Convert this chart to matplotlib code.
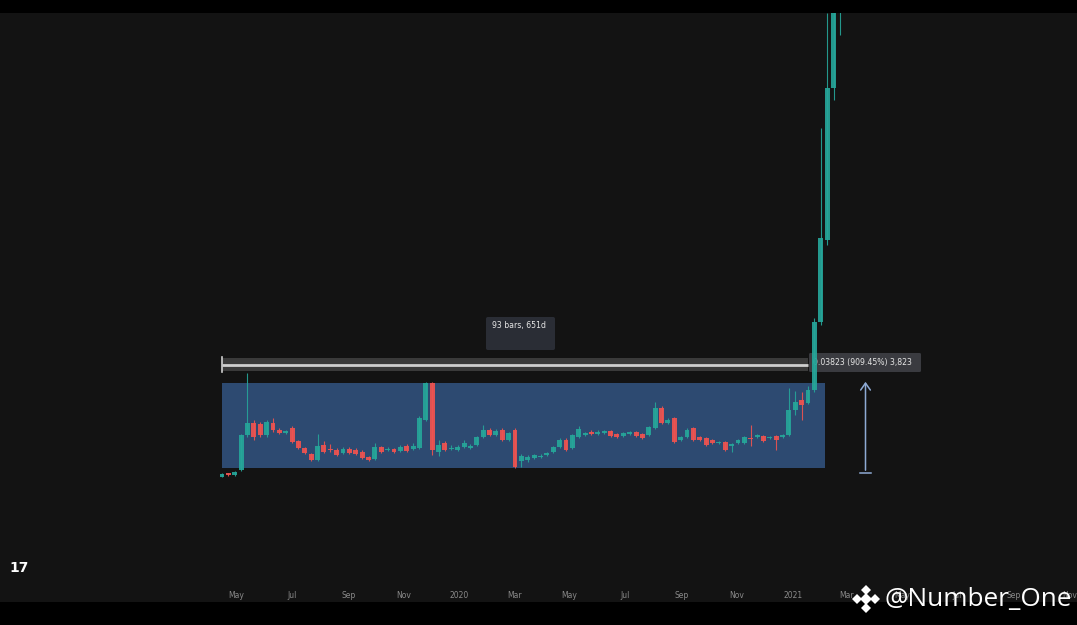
import matplotlib
matplotlib.use("Agg")
import matplotlib.pyplot as plt
import matplotlib.dates as mdates
from matplotlib.patches import Rectangle, FancyBboxPatch
import numpy as np
import datetime as dt

# ---------------- data (weekly candles, starting 2019-04-15) ----------------
start_date = dt.date(2019, 4, 15)
opens = [0.0002, 0.0018, 0.0011, 0.0033, 0.0191, 0.0245, 0.0240, 0.0191, 0.0245, 0.0213,
         0.0200, 0.0222, 0.0164, 0.0132, 0.0105, 0.0078, 0.0146, 0.0128, 0.0123, 0.0110,
         0.0128, 0.0123, 0.0114, 0.0092, 0.0083, 0.0137, 0.0123, 0.0128, 0.0119, 0.0141,
         0.0128, 0.0132, 0.0258, 0.0425, 0.0114, 0.0155, 0.0128, 0.0123, 0.0137, 0.0132,
         0.0146, 0.0182, 0.0213, 0.0191, 0.0213, 0.0168, 0.0213, 0.0074, 0.0078, 0.0087,
         0.0092, 0.0101, 0.0114, 0.0137, 0.0168, 0.0132, 0.0182, 0.0191, 0.0204, 0.0195,
         0.0200, 0.0209, 0.0195, 0.0186, 0.0195, 0.0204, 0.0195, 0.0191, 0.0222, 0.0312,
         0.0245, 0.0267, 0.0168, 0.0182, 0.0222, 0.0182, 0.0177, 0.0168, 0.0155, 0.0159,
         0.0141, 0.0155, 0.0155, 0.0177, 0.0182, 0.0186, 0.0177, 0.0186, 0.0182, 0.0191,
         0.0303, 0.0348, 0.0335, 0.0393, 0.0699, 0.1068, 0.1752, 0.2600]
highs = [0.0020, 0.0020, 0.0029, 0.0195, 0.0470, 0.0258, 0.0249, 0.0258, 0.0267, 0.0222,
         0.0213, 0.0231, 0.0168, 0.0137, 0.0110, 0.0195, 0.0164, 0.0150, 0.0132, 0.0137,
         0.0137, 0.0132, 0.0123, 0.0096, 0.0155, 0.0141, 0.0137, 0.0132, 0.0146, 0.0150,
         0.0155, 0.0276, 0.0429, 0.0429, 0.0168, 0.0164, 0.0146, 0.0146, 0.0168, 0.0150,
         0.0186, 0.0236, 0.0222, 0.0218, 0.0222, 0.0204, 0.0222, 0.0105, 0.0101, 0.0105,
         0.0105, 0.0114, 0.0141, 0.0177, 0.0177, 0.0195, 0.0231, 0.0204, 0.0213, 0.0213,
         0.0213, 0.0213, 0.0200, 0.0204, 0.0209, 0.0209, 0.0200, 0.0231, 0.0339, 0.0321,
         0.0267, 0.0272, 0.0186, 0.0222, 0.0227, 0.0186, 0.0182, 0.0173, 0.0164, 0.0164,
         0.0155, 0.0173, 0.0186, 0.0236, 0.0195, 0.0191, 0.0186, 0.0191, 0.0195, 0.0402,
         0.0389, 0.0384, 0.0411, 0.0717, 0.1572, 0.2090, 0.2900, 0.3200]
lows = [0.0001, 0.0006, 0.0006, 0.0029, 0.0182, 0.0168, 0.0182, 0.0182, 0.0204, 0.0195,
        0.0195, 0.0155, 0.0128, 0.0105, 0.0074, 0.0074, 0.0110, 0.0114, 0.0096, 0.0105,
        0.0105, 0.0101, 0.0083, 0.0074, 0.0078, 0.0110, 0.0119, 0.0110, 0.0114, 0.0114,
        0.0123, 0.0128, 0.0254, 0.0101, 0.0096, 0.0119, 0.0123, 0.0119, 0.0132, 0.0128,
        0.0141, 0.0177, 0.0186, 0.0186, 0.0164, 0.0164, 0.0042, 0.0047, 0.0069, 0.0083,
        0.0087, 0.0096, 0.0110, 0.0132, 0.0119, 0.0128, 0.0177, 0.0186, 0.0191, 0.0191,
        0.0195, 0.0182, 0.0177, 0.0182, 0.0191, 0.0182, 0.0173, 0.0186, 0.0218, 0.0240,
        0.0240, 0.0155, 0.0164, 0.0177, 0.0164, 0.0164, 0.0141, 0.0150, 0.0150, 0.0119,
        0.0114, 0.0150, 0.0150, 0.0141, 0.0177, 0.0159, 0.0173, 0.0123, 0.0177, 0.0186,
        0.0281, 0.0258, 0.0330, 0.0384, 0.0685, 0.1046, 0.1700, 0.1991]
closes = [0.0015, 0.0011, 0.0024, 0.0191, 0.0245, 0.0182, 0.0191, 0.0249, 0.0213, 0.0200,
          0.0209, 0.0159, 0.0132, 0.0110, 0.0078, 0.0141, 0.0114, 0.0123, 0.0101, 0.0128,
          0.0110, 0.0105, 0.0087, 0.0078, 0.0137, 0.0114, 0.0128, 0.0114, 0.0137, 0.0119,
          0.0141, 0.0267, 0.0425, 0.0123, 0.0146, 0.0123, 0.0132, 0.0137, 0.0155, 0.0141,
          0.0182, 0.0213, 0.0191, 0.0209, 0.0168, 0.0200, 0.0047, 0.0096, 0.0092, 0.0101,
          0.0096, 0.0110, 0.0137, 0.0168, 0.0123, 0.0191, 0.0218, 0.0200, 0.0195, 0.0204,
          0.0209, 0.0186, 0.0182, 0.0200, 0.0204, 0.0186, 0.0177, 0.0227, 0.0312, 0.0245,
          0.0258, 0.0159, 0.0182, 0.0213, 0.0168, 0.0168, 0.0146, 0.0155, 0.0159, 0.0123,
          0.0150, 0.0168, 0.0182, 0.0173, 0.0191, 0.0164, 0.0182, 0.0168, 0.0191, 0.0303,
          0.0339, 0.0326, 0.0393, 0.0699, 0.1077, 0.1752, 0.2600, 0.3000]

range_low = 0.0042
range_high = 0.0424
measure_text = "0.03823 (909.45%) 3,823"
bars_text = "93 bars, 651d"

tick_dates = ["2019-05-01", "2019-07-01", "2019-09-01", "2019-11-01", "2020-01-01",
              "2020-03-01", "2020-05-01", "2020-07-01", "2020-09-01", "2020-11-01",
              "2021-01-01", "2021-03-01", "2021-05-01", "2021-07-01", "2021-09-01",
              "2021-11-01"]
tick_labels = ["May", "Jul", "Sep", "Nov", "2020", "Mar", "May", "Jul", "Sep", "Nov",
               "2021", "Mar", "May", "Jul", "Sep", "Nov"]

# ---------------- figure ----------------
W, H = 1077, 625
fig = plt.figure(figsize=(W / 100, H / 100), dpi=100, facecolor="#131313")
ax = fig.add_axes([0, 0, 1, 1])
ax.set_facecolor("#131313")
for s in ax.spines.values():
    s.set_visible(False)
ax.set_xticks([])
ax.set_yticks([])

PX_PER_DAY = 0.91
PRICE_PER_PX = 0.00045
x0 = mdates.date2num(start_date)
ax.set_xlim(x0 - 222 / PX_PER_DAY, x0 + (W - 222) / PX_PER_DAY)
ax.set_ylim(range_low - (H - 468) * PRICE_PER_PX, range_low + 468 * PRICE_PER_PX)

n = len(opens)
xs = x0 + 7 * np.arange(n)
o = np.array(opens); c = np.array(closes); hi = np.array(highs); lo = np.array(lows)
up = c >= o
green = "#26a69a"
red = "#ef5350"
cols = np.where(up, green, red)

# range rectangle
ax.add_patch(Rectangle((x0, range_low), (825 - 222) / PX_PER_DAY, range_high - range_low,
                       facecolor="#2d4a71", edgecolor="none", zorder=1))

# candles
ax.vlines(xs, lo, hi, colors=cols, linewidth=0.8, zorder=3, alpha=0.9)
bottoms = np.minimum(o, c)
heights = np.maximum(np.abs(c - o), 0.0005)
ax.bar(xs, heights, bottom=bottoms, width=5.4, color=cols, edgecolor="none", zorder=3.1, alpha=0.92)

# helpers to place annotation elements (pixel -> data)
def py(ypx):
    return range_low + (468 - ypx) * PRICE_PER_PX
def px(xpx):
    return x0 + (xpx - 222) / PX_PER_DAY

# measurement line
ax.add_patch(Rectangle((px(222), py(371)), px(808) - px(222), py(358) - py(371),
                       facecolor="#3a3a3a", edgecolor="none", zorder=2))
ax.plot([px(222), px(808)], [py(364.5), py(364.5)], color="#cfcfcf", linewidth=2.0, zorder=2.2,
        solid_capstyle="butt")
ax.plot([px(222.5), px(222.5)], [py(357), py(372)], color="#cfcfcf", linewidth=1.2, zorder=2.2)

# measurement label
ax.add_patch(FancyBboxPatch((px(809), py(372)), px(921) - px(809), py(353) - py(372),
                            boxstyle="round,pad=0,rounding_size=1.5", facecolor="#3a3b40",
                            edgecolor="none", zorder=2.5, mutation_aspect=PRICE_PER_PX / (1 / PX_PER_DAY)))
ax.text(px(813), py(362.5), measure_text, color="#e6e6e6", fontsize=5.6, ha="left", va="center",
        zorder=2.6)

# bars label
ax.add_patch(FancyBboxPatch((px(486), py(350)), px(555) - px(486), py(317) - py(350),
                            boxstyle="round,pad=0,rounding_size=2", facecolor="#2a2d35",
                            edgecolor="none", zorder=2.5, mutation_aspect=PRICE_PER_PX / (1 / PX_PER_DAY)))
ax.text(px(492), py(325.5), bars_text, color="#e6e6e6", fontsize=5.6, ha="left", va="center",
        zorder=2.6)

# arrow
arrow_col = "#8eaad4"
ax.annotate("", xy=(px(865.5), py(379)), xytext=(px(865.5), py(473)),
            arrowprops=dict(arrowstyle="->,head_length=0.5,head_width=0.35", color=arrow_col, lw=1.1),
            zorder=2)
ax.plot([px(860), px(871)], [py(473), py(473)], color=arrow_col, linewidth=1.1, zorder=2)

# time axis labels
tr = matplotlib.transforms.blended_transform_factory(ax.transData, fig.transFigure)
for d, lab in zip(tick_dates, tick_labels):
    xd = mdates.date2num(dt.date.fromisoformat(d))
    ax.text(xd, 1 - 596 / H, lab, transform=tr, color="#8a8a8a", fontsize=5.5,
            ha="center", va="center", zorder=5)

# top and bottom black bands
fig.patches.append(Rectangle((0, 1 - 13 / H), 1, 13 / H, transform=fig.transFigure,
                             facecolor="#000000", edgecolor="none", zorder=10))
fig.patches.append(Rectangle((0, 0), 1, 23 / H, transform=fig.transFigure,
                             facecolor="#000000", edgecolor="none", zorder=10))

# TradingView logo
fig.text(19 / W, 1 - 568 / H, "17", color="white", fontsize=10, fontweight="bold",
         ha="center", va="center", zorder=12)

# watermark
fig.text(884 / W, 1 - 600 / H, "@Number_One", color="white", fontsize=18.8, family="Open Sans",
         ha="left", va="center", zorder=12)
cx, cy = 866, 599
for dx, dy, s in [(0, 0, 6), (0, -9, 5), (0, 9, 5), (-9, 0, 5), (9, 0, 5)]:
    fig.lines.append(matplotlib.lines.Line2D([(cx + dx) / W], [1 - (cy + dy) / H], marker="D",
                                             markersize=s, color="white", markeredgewidth=0,
                                             transform=fig.transFigure, zorder=12))

fig.savefig("out.png", dpi=100, facecolor=fig.get_facecolor())
